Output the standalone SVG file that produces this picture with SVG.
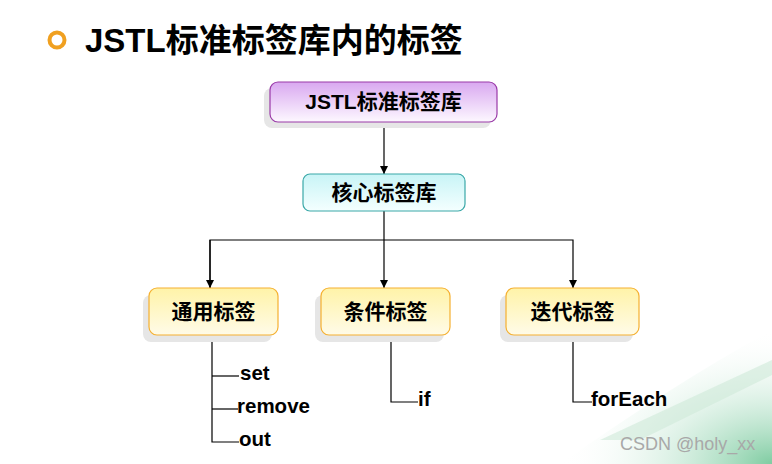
<svg xmlns="http://www.w3.org/2000/svg" width="772" height="464" viewBox="0 0 772 464">
<defs>
<linearGradient id="gp" x1="0" y1="0" x2="0" y2="1"><stop offset="0" stop-color="#d9a8f0"/><stop offset="1" stop-color="#fdf8ff"/></linearGradient>
<linearGradient id="gc" x1="0" y1="0" x2="0" y2="1"><stop offset="0" stop-color="#c8f4f6"/><stop offset="1" stop-color="#f4ffff"/></linearGradient>
<linearGradient id="gy" x1="0" y1="0" x2="0" y2="1"><stop offset="0" stop-color="#fff3a8"/><stop offset="1" stop-color="#fffbe8"/></linearGradient>
<radialGradient id="gg" cx="1" cy="1" r="1"><stop offset="0" stop-color="#5fbf8a" stop-opacity="0.8"/><stop offset="1" stop-color="#ffffff" stop-opacity="0"/></radialGradient>
<marker id="ad" markerWidth="8" markerHeight="8" refX="8" refY="4" orient="auto" markerUnits="userSpaceOnUse"><path d="M0,0 L8,4 L0,8 Z" fill="#000"/></marker>
<style>
.t{font-family:"Liberation Sans","Noto Sans CJK SC",sans-serif;font-weight:bold;fill:#000}
.l{stroke:#000;stroke-width:1.2;fill:none}
.sh{fill:#e6e6e6}
</style>
</defs>
<rect width="772" height="464" fill="#fff"/>
<path d="M560,464 Q680,380 772,330 L772,464 Z" fill="url(#gg)"/>
<path d="M600,440 L772,360 L772,375 L640,440 Z" fill="#cfe9d8" opacity="0.6"/>
<circle cx="57" cy="40" r="7.5" fill="none" stroke="#f0a020" stroke-width="4"/>
<text class="t" x="85" y="52" font-size="33">JSTL标准标签库内的标签</text>
<g id="connectors">
<line class="l" x1="384" y1="122" x2="384" y2="174" marker-end="url(#ad)"/>
<line class="l" x1="384" y1="211" x2="384" y2="288" marker-end="url(#ad)"/>
<polyline class="l" points="210,288 210,240 573,240 573,288" marker-end="url(#ad)"/>
<line class="l" x1="210" y1="240" x2="210" y2="288" marker-end="url(#ad)"/>
<polyline class="l" points="212,342 212,442 239,442"/>
<line class="l" x1="212" y1="376" x2="239" y2="376"/>
<line class="l" x1="212" y1="409" x2="238" y2="409"/>
<polyline class="l" points="391,335 391,402 418,402"/>
<polyline class="l" points="573,335 573,402 592,402"/>
</g>
<g id="n-jstl">
<rect class="sh" x="264" y="88" width="227" height="40" rx="8"/>
<rect x="270" y="82" width="227" height="40" rx="8" fill="url(#gp)" stroke="#9a3aa8" stroke-width="1.2"/>
<text class="t" x="383.5" y="109" font-size="21" text-anchor="middle">JSTL标准标签库</text>
</g>
<g id="n-core">
<rect x="303" y="174" width="162" height="37" rx="7" fill="url(#gc)" stroke="#3aa8a8" stroke-width="1.2"/>
<text class="t" x="384" y="200" font-size="21" text-anchor="middle">核心标签库</text>
</g>
<g id="n-general">
<rect class="sh" x="143" y="295" width="129" height="47" rx="8"/>
<rect x="149" y="288" width="129" height="47" rx="8" fill="url(#gy)" stroke="#f5b030" stroke-width="1.2"/>
<text class="t" x="213.5" y="319" font-size="21" text-anchor="middle">通用标签</text>
</g>
<g id="n-cond">
<rect class="sh" x="315" y="295" width="129" height="47" rx="8"/>
<rect x="321" y="288" width="129" height="47" rx="8" fill="url(#gy)" stroke="#f5b030" stroke-width="1.2"/>
<text class="t" x="385.5" y="319" font-size="21" text-anchor="middle">条件标签</text>
</g>
<g id="n-iter">
<rect class="sh" x="500" y="295" width="133" height="47" rx="8"/>
<rect x="506" y="288" width="133" height="47" rx="8" fill="url(#gy)" stroke="#f5b030" stroke-width="1.2"/>
<text class="t" x="572.5" y="319" font-size="21" text-anchor="middle">迭代标签</text>
</g>
<g id="leaves" class="t" font-size="20.5">
<text x="240" y="380">set</text>
<text x="237" y="413">remove</text>
<text x="239" y="446">out</text>
<text x="418" y="406">if</text>
<text x="591" y="406">forEach</text>
</g>
<text x="620" y="450" font-family="Liberation Sans,sans-serif" font-size="18" fill="#a8a8a8">CSDN @holy_xx</text>
</svg>
